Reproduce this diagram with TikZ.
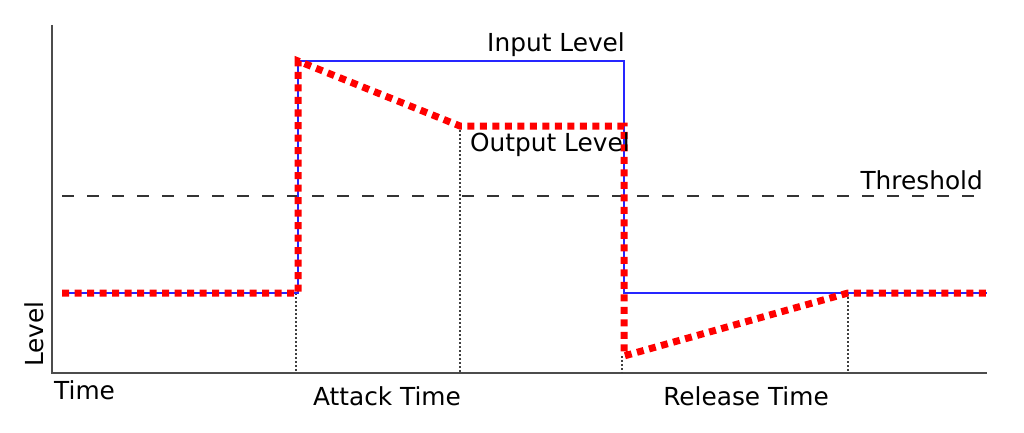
\documentclass[tikz,border=0pt]{standalone}
\usepackage{fontspec}
\setmainfont{DejaVu Sans}
\tikzset{
	axisline/.style={draw=black!70, line width=2pt},
	inlevel/.style={draw=blue!85!white, line width=2pt},
	outlevel/.style={draw=red, line width=7pt, dash pattern=on 7pt off 5.5pt},
	marker/.style={draw=black!75, line width=1.5pt, dash pattern=on 1.5pt off 2.5pt},
	thresh/.style={draw=black!80, line width=1.5pt, dash pattern=on 12pt off 13pt},
	lbl/.style={font=\fontsize{24.8}{28}\selectfont, inner sep=0pt}
}

\begin{document}
\begin{tikzpicture}[x=1pt, y=-1pt]
	\useasboundingbox (0,0) rectangle (1024,433);
	% axes
	\coordinate (top) at (52,25);
	\coordinate (origin) at (52,373);
	\coordinate (right) at (987,373);
	\draw[axisline] (top) -- (origin) -- (right);
	% key points
	\coordinate (start) at (62,293);
	\coordinate (rise) at (298,293);
	\coordinate (peak) at (298,61);
	\coordinate (fall) at (624,61);
	\coordinate (low) at (624,293);
	\coordinate (end) at (987,293);
	\coordinate (att) at (460,126);
	\coordinate (hold) at (624,126);
	\coordinate (dip) at (624,356);
	\coordinate (rel) at (848,293);
	% threshold
	\coordinate (thA) at (62,196);
	\coordinate (thB) at (983,196);
	\draw[thresh] (thA) -- (thB);
	% markers
	\draw[marker] (296,293) -- (296,373);
	\draw[marker] (att) -- (att |- origin);
	\draw[marker] (622,356) -- (622,373);
	\draw[marker] (rel) -- (rel |- origin);
	% input and output
	\draw[inlevel] (start) -- (rise) -- (peak) -- (fall) -- (low) -- (end);
	\draw[outlevel] (start) -- (rise) -- (peak) -- (att) -- (hold) -- (dip) -- (rel) -- (end);
	% labels
	\node[lbl, anchor=east] (inlbl) at (625,45) {Input Level};
	\node[lbl, anchor=west] (outlbl) at (470,145) {Output Level};
	\node[lbl, anchor=east] (thlbl) at (983,180) {Threshold};
	\node[lbl, rotate=90] (ylbl) at (34,334) {Level};
	\node[lbl, anchor=west] (xlbl) at (54,390) {Time};
	\node[lbl] (attlbl) at (387,396) {Attack Time};
	\node[lbl] (rellbl) at (746,396) {Release Time};
\end{tikzpicture}
\end{document}
